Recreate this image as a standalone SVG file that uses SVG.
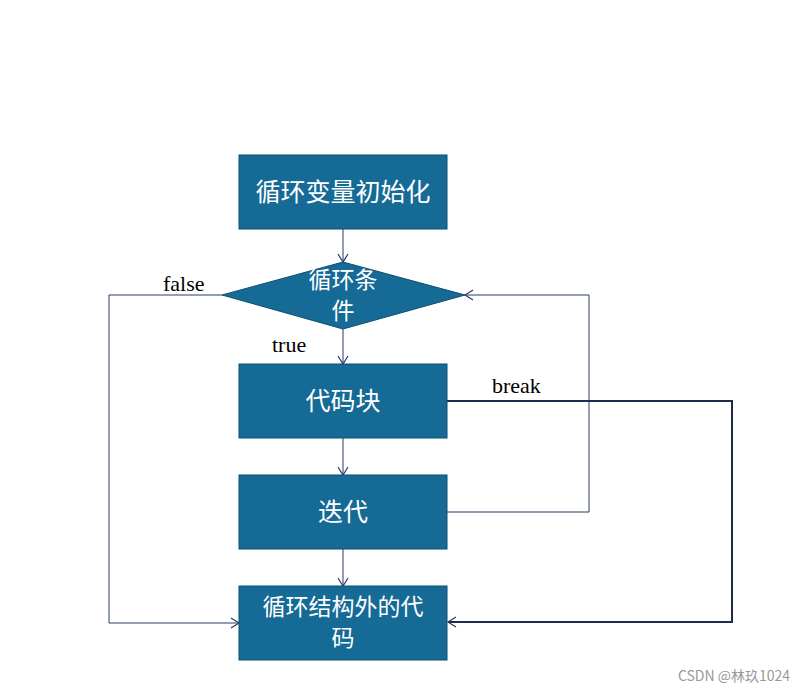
<svg xmlns="http://www.w3.org/2000/svg" width="805" height="693" viewBox="0 0 805 693">
<style>
.n{fill:#156a96;stroke:#0e4f70;stroke-width:1}
.t{font-family:"Noto Sans CJK SC",sans-serif;font-size:25px;fill:#fff;text-anchor:middle}
.t2{font-family:"Noto Sans CJK SC",sans-serif;font-size:23px;fill:#fff;text-anchor:middle}
.l{font-family:"Liberation Serif",serif;font-size:22px;fill:#000}
.c{fill:none;stroke:#2a3a60;stroke-width:1}
</style>
<defs>
<marker id="a" markerWidth="12" markerHeight="12" refX="10" refY="6" orient="auto" markerUnits="userSpaceOnUse">
<path d="M2,1 L10,6 L2,11" fill="none" stroke="#2a3a60" stroke-width="1.2"/>
</marker>
</defs>
<rect width="805" height="693" fill="#fff"/>
<g id="connectors">
<path class="c" d="M343,229 V262" marker-end="url(#a)"/>
<path class="c" d="M343,329 V364" marker-end="url(#a)"/>
<path class="c" d="M343,438 V475" marker-end="url(#a)"/>
<path class="c" d="M343,549 V586" marker-end="url(#a)"/>
<path class="c" d="M222,295 H109 V623 H239" marker-end="url(#a)"/>
<path class="c" d="M447,512 H589 V295 H465" marker-end="url(#a)"/>
<path class="c" style="stroke:#1c2c50;stroke-width:2" d="M447,401 H732 V622 H448" marker-end="url(#a)"/>
</g>
<g id="init"><rect class="n" x="239" y="155" width="208" height="74"/><text class="t" x="343" y="201">循环变量初始化</text></g>
<g id="cond"><polygon class="n" points="222,295 343,262 465,295 343,329"/><text class="t2" x="343" y="288">循环条</text><text class="t2" x="343" y="319">件</text></g>
<g id="body"><rect class="n" x="239" y="364" width="208" height="74"/><text class="t" x="343" y="410">代码块</text></g>
<g id="iter"><rect class="n" x="239" y="475" width="208" height="74"/><text class="t" x="343" y="521">迭代</text></g>
<g id="out"><rect class="n" x="239" y="586" width="208" height="74"/><text class="t2" x="343" y="615">循环结构外的代</text><text class="t2" x="343" y="646">码</text></g>
<g id="labels">
<text class="l" x="163" y="291">false</text>
<text class="l" x="272" y="352">true</text>
<text class="l" x="492" y="393">break</text>
<text x="790" y="681" text-anchor="end" style="font-family:'Noto Sans CJK SC',sans-serif;font-size:14px;fill:#999">CSDN @林玖1024</text>
</g>
</svg>
